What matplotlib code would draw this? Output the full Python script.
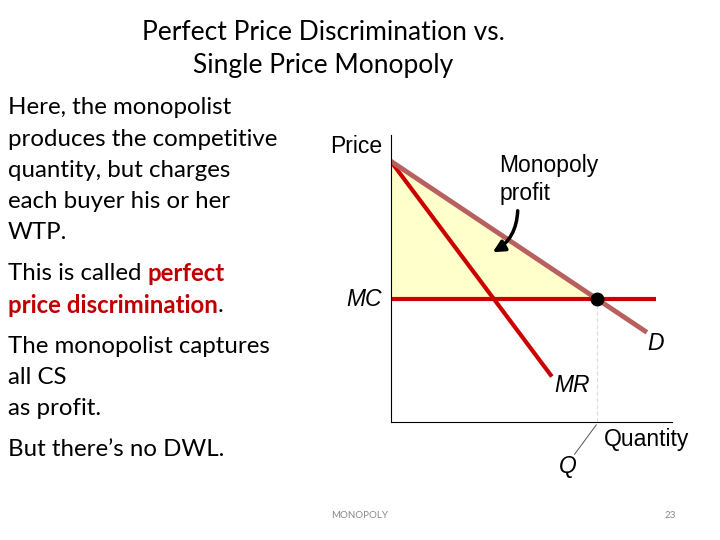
import numpy as np
import matplotlib.pyplot as plt

# economics of the diagram (arbitrary units)
p_max = 10.0        # demand intercept
mc = 4.7            # constant marginal cost
q_comp = 10.0       # competitive quantity where D meets MC
slope = (p_max - mc) / q_comp
q_d_end = 12.4      # demand line end
q_mr_end = 7.8      # MR line end
q_mc_end = 12.85
x_max, y_max = 13.6, 11.0

title_lines = ["Perfect Price Discrimination vs.", "Single Price Monopoly"]
body = [
    ["Here, the monopolist", "produces the competitive", "quantity, but charges",
     "each buyer his or her", "WTP."],
    ["This is called |perfect", "price discrimination|."],
    ["The monopolist captures", "all CS", "as profit."],
    ["But there\u2019s no DWL."],
]

fig = plt.figure(figsize=(7.2, 5.4), dpi=100)
fig.patch.set_facecolor('white')
body_font = 'Lato'
red = '#C00000'

# title
for i, t in enumerate(title_lines):
    fig.text(323 / 720, 1 - (32 + 34 * i) / 540, t, ha='center', va='center',
             fontsize=19, family=body_font)

# body text, red bold runs between | markers
fig.canvas.draw()
renderer = fig.canvas.get_renderer()
y = 108
red_on = False
for para in body:
    for line in para:
        x = 8
        parts = line.split('|')
        for k, part in enumerate(parts):
            if k > 0:
                red_on = not red_on
            if not part:
                continue
            t = fig.text(x / 720, 1 - y / 540, part, ha='left', va='center',
                         fontsize=17.3, family=body_font,
                         color=red if red_on else 'black',
                         fontweight='bold' if red_on else 'normal')
            x += t.get_window_extent(renderer).width
        y += 31.2
    y += 10

# chart
ax = fig.add_axes([390.7 / 720, 1 - 421.7 / 540, 281 / 720, 286.7 / 540])
ax.set_xlim(0, x_max)
ax.set_ylim(0, y_max)
for s in ['top', 'right']:
    ax.spines[s].set_visible(False)
for s in ['left', 'bottom']:
    ax.spines[s].set_linewidth(0.8)
ax.set_xticks([])
ax.set_yticks([])

q = np.array([0, q_comp])
ax.fill_between(q, mc, p_max - slope * q, color='#FFFFCC', lw=0)
ax.plot([0, q_mc_end], [mc, mc], color='#CC0000', lw=3, solid_capstyle='butt')
ax.plot([0, q_mr_end], [p_max, p_max - 2 * slope * q_mr_end], color='#CC0000', lw=3,
        solid_capstyle='butt')
ax.plot([0, q_d_end], [p_max, p_max - slope * q_d_end], color='#B86060', lw=3.5,
        solid_capstyle='butt')
ax.plot([q_comp, q_comp], [0, mc], color='#DDDDDD', lw=0.8, ls=(0, (4, 2)))
ax.plot([q_comp], [mc], 'o', color='black', ms=9)

lab = dict(family='Liberation Sans', fontsize=16.5, clip_on=False)
ax.text(-0.4, 10.55, 'Price', ha='right', va='center', **lab)
ax.text(-0.45, mc, 'MC', ha='right', va='center', style='italic', **lab)
ax.text(12.8, 3.0, 'D', ha='center', va='center', style='italic', **lab)
ax.text(8.8, 1.37, 'MR', ha='center', va='center', style='italic', **lab)
ax.text(10.3, -0.7, 'Quantity', ha='left', va='center', **lab)
ax.text(8.55, -1.7, 'Q', ha='center', va='center', style='italic', **lab)
ax.plot([9.95, 8.9], [-0.12, -1.25], color='#555555', lw=0.7, clip_on=False)
ax.text(5.25, 9.3, 'Monopoly\nprofit', ha='left', va='center', linespacing=1.3, **lab)
ax.annotate('', xy=(4.82, 6.45), xytext=(6.15, 8.2),
            arrowprops=dict(arrowstyle='-|>,head_length=0.7,head_width=0.35', color='black',
                            lw=2.5, connectionstyle='arc3,rad=-0.3'))

fig.text(360 / 720, 1 - 515 / 540, 'MONOPOLY', ha='center', va='center', fontsize=7,
         color='#888888', family=body_font)
fig.text(670 / 720, 1 - 515 / 540, '23', ha='center', va='center', fontsize=7,
         color='#888888', family=body_font)

fig.savefig('out.png', dpi=100)
